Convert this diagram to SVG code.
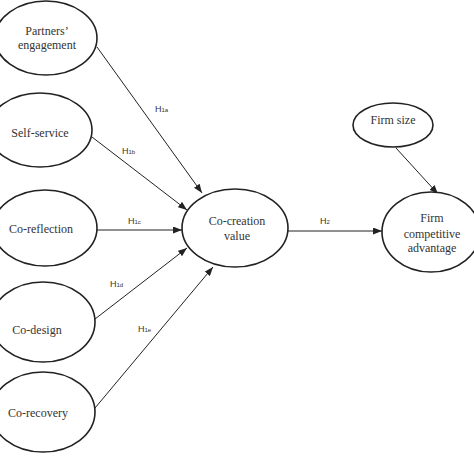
<svg xmlns="http://www.w3.org/2000/svg" width="474" height="474" viewBox="0 0 474 474">
<defs>
<marker id="ah" markerWidth="9" markerHeight="7" refX="9" refY="3.5" orient="auto" markerUnits="userSpaceOnUse">
<path d="M0,0 L9,3.5 L0,7 Z" fill="#222"/>
</marker>
<style>
.n{fill:#fff;stroke:#222;stroke-width:1.6}
.t{font-family:"Liberation Serif",serif;font-size:12px;fill:#333;text-anchor:middle}
.h{font-family:"Liberation Sans",Arial,sans-serif;font-size:9px;fill:#333}
.s{font-size:6px}
.c{stroke:#222;stroke-width:1;fill:none;marker-end:url(#ah)}
</style>
</defs>
<rect width="474" height="474" fill="#fff"/>
<g id="connectors">
<line class="c" x1="97" y1="47" x2="202" y2="193"/>
<line class="c" x1="92" y1="137" x2="187" y2="210"/>
<line class="c" x1="97" y1="230" x2="182" y2="230"/>
<line class="c" x1="95" y1="319" x2="187" y2="248"/>
<line class="c" x1="95" y1="408" x2="213" y2="267"/>
<line class="c" x1="288" y1="231" x2="382" y2="231"/>
<line class="c" x1="396" y1="148" x2="438" y2="194"/>
<text class="h" x="155" y="112">H<tspan class="s">1a</tspan></text>
<text class="h" x="122" y="154">H<tspan class="s">1b</tspan></text>
<text class="h" x="128" y="224">H<tspan class="s">1c</tspan></text>
<text class="h" x="110" y="287">H<tspan class="s">1d</tspan></text>
<text class="h" x="138" y="332">H<tspan class="s">1e</tspan></text>
<text class="h" x="320" y="224">H<tspan class="s">2</tspan></text>
</g>
<g id="partners">
<ellipse class="n" cx="46" cy="38" rx="51" ry="37"/>
<text class="t" x="47" y="35">Partners’</text>
<text class="t" x="47" y="49">engagement</text>
</g>
<g id="selfservice">
<ellipse class="n" cx="40" cy="130" rx="52" ry="37"/>
<text class="t" x="40" y="137">Self-service</text>
</g>
<g id="coreflection">
<ellipse class="n" cx="45" cy="228" rx="52" ry="38"/>
<text class="t" x="41" y="233">Co-reflection</text>
</g>
<g id="codesign">
<ellipse class="n" cx="43" cy="322" rx="52" ry="40"/>
<text class="t" x="37" y="334">Co-design</text>
</g>
<g id="corecovery">
<ellipse class="n" cx="43" cy="412" rx="52" ry="40"/>
<text class="t" x="38" y="417">Co-recovery</text>
</g>
<g id="cocreation">
<ellipse class="n" cx="235" cy="228" rx="53" ry="39"/>
<text class="t" x="237" y="225">Co-creation</text>
<text class="t" x="237" y="240">value</text>
</g>
<g id="firmsize">
<ellipse class="n" cx="393" cy="125" rx="40" ry="22"/>
<text class="t" x="393" y="124">Firm size</text>
</g>
<g id="fca">
<ellipse class="n" cx="431" cy="232" rx="49" ry="40"/>
<text class="t" x="432" y="222">Firm</text>
<text class="t" x="432" y="238">competitive</text>
<text class="t" x="432" y="252">advantage</text>
</g>
</svg>
